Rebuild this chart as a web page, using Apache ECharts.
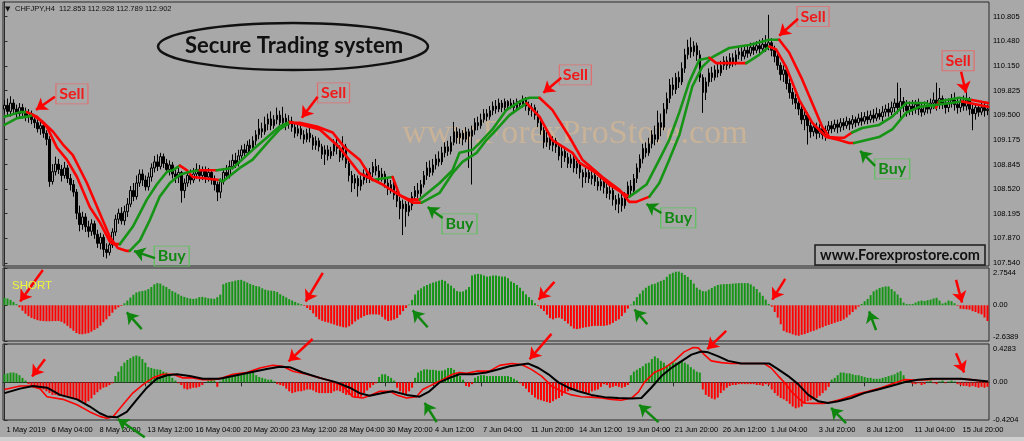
<!DOCTYPE html>
<html><head><meta charset="utf-8">
<script src="https://cdn.jsdelivr.net/npm/echarts@6/dist/echarts.min.js"></script>
<style>html,body{margin:0;padding:0;background:#a8a8a8;}#c{width:1024px;height:441px;}</style>
</head><body><div id="c"></div>
<script>
// ---- price candles [open, close, low, high], CHFJPY H4 ----
const candles = [
[109.58,109.63,109.52,109.70],[109.63,109.55,109.50,109.72],[109.55,109.66,109.48,109.75],[109.66,109.58,109.53,109.71],[109.58,109.52,109.45,109.64],[109.52,109.60,109.47,109.66],[109.60,109.54,109.46,109.65],[109.54,109.48,109.42,109.60],[109.48,109.52,109.40,109.58],[109.52,109.44,109.38,109.56],
[109.44,109.40,109.33,109.50],[109.40,109.32,109.27,109.45],[109.32,109.36,109.24,109.42],[109.36,109.26,109.20,109.40],[109.26,109.18,109.10,109.30],[109.18,108.62,108.55,109.22],[108.62,108.75,108.58,108.85],[108.75,108.85,108.70,108.95],[108.85,108.78,108.72,108.92],[108.78,108.70,108.62,108.84],
[108.70,108.80,108.66,108.88],[108.80,108.66,108.60,108.84],[108.66,108.58,108.50,108.72],[108.58,108.48,108.42,108.64],[108.48,108.20,108.12,108.52],[108.20,108.05,107.96,108.30],[108.05,108.15,107.98,108.22],[108.15,108.02,107.95,108.20],[108.02,107.96,107.88,108.10],[107.96,108.06,107.90,108.12],
[108.06,107.92,107.86,108.10],[107.92,107.80,107.74,107.98],[107.80,107.88,107.72,107.94],[107.88,107.72,107.62,107.92],[107.72,107.68,107.60,107.80],[107.68,107.78,107.64,107.84],[107.78,107.95,107.74,108.00],[107.95,108.12,107.90,108.18],[108.12,108.20,108.06,108.26],[108.20,108.10,108.05,108.28],
[108.10,108.22,108.04,108.30],[108.22,108.32,108.15,108.40],[108.32,108.50,108.28,108.56],[108.50,108.42,108.36,108.60],[108.42,108.60,108.38,108.70],[108.60,108.72,108.55,108.78],[108.72,108.64,108.56,108.78],[108.64,108.55,108.50,108.70],[108.55,108.68,108.50,108.74],[108.68,108.80,108.62,108.86],
[108.80,108.88,108.74,108.96],[108.88,108.82,108.76,108.98],[108.82,108.95,108.78,109.00],[108.95,108.86,108.80,108.99],[108.86,108.78,108.72,108.92],[108.78,108.84,108.70,108.90],[108.84,108.72,108.66,108.88],[108.72,108.68,108.60,108.80],[108.68,108.74,108.60,108.80],[108.74,108.50,108.34,108.76],
[108.50,108.60,108.40,108.66],[108.60,108.70,108.55,108.76],[108.70,108.64,108.58,108.78],[108.64,108.72,108.60,108.80],[108.72,108.78,108.66,108.86],[108.78,108.70,108.62,108.84],[108.70,108.76,108.64,108.82],[108.76,108.68,108.60,108.82],[108.68,108.74,108.62,108.80],[108.74,108.64,108.58,108.78],
[108.64,108.58,108.50,108.70],[108.58,108.48,108.36,108.62],[108.48,108.62,108.40,108.66],[108.62,108.74,108.58,108.80],[108.74,108.70,108.64,108.84],[108.70,108.82,108.66,108.90],[108.82,108.90,108.78,108.98],[108.90,108.86,108.80,109.00],[108.86,108.96,108.82,109.04],[108.96,109.04,108.92,109.10],
[109.04,109.00,108.94,109.12],[109.00,109.10,108.96,109.16],[109.10,109.06,109.00,109.18],[109.06,109.16,109.02,109.22],[109.16,109.24,109.10,109.30],[109.24,109.32,109.18,109.45],[109.32,109.28,109.20,109.40],[109.28,109.38,109.24,109.48],[109.38,109.45,109.30,109.52],[109.45,109.36,109.30,109.55],
[109.36,109.44,109.32,109.50],[109.44,109.50,109.38,109.60],[109.50,109.40,109.34,109.56],[109.40,109.46,109.35,109.61],[109.46,109.38,109.30,109.52],[109.38,109.42,109.32,109.50],[109.42,109.34,109.28,109.48],[109.34,109.26,109.20,109.40],[109.26,109.32,109.22,109.38],[109.32,109.24,109.18,109.36],
[109.24,109.18,109.12,109.30],[109.18,109.26,109.14,109.32],[109.26,109.20,109.14,109.34],[109.20,109.10,109.04,109.24],[109.10,109.16,109.04,109.22],[109.16,109.08,109.02,109.20],[109.08,108.98,108.92,109.12],[108.98,109.04,108.84,109.10],[109.04,108.96,108.90,109.10],[108.96,109.02,108.92,109.08],
[109.02,109.12,108.96,109.18],[109.12,109.06,108.98,109.20],[109.06,108.94,108.88,109.10],[108.94,109.08,108.90,109.22],[109.08,108.86,108.80,109.12],[108.86,108.70,108.62,108.90],[108.70,108.60,108.48,108.76],[108.60,108.66,108.52,108.72],[108.66,108.56,108.42,108.70],[108.56,108.64,108.50,108.70],
[108.64,108.72,108.58,108.78],[108.72,108.66,108.60,108.80],[108.66,108.74,108.60,108.80],[108.74,108.82,108.68,108.88],[108.82,108.76,108.70,108.92],[108.76,108.68,108.62,108.84],[108.68,108.72,108.62,108.80],[108.72,108.60,108.54,108.76],[108.60,108.52,108.44,108.66],[108.52,108.58,108.46,108.64],
[108.58,108.44,108.38,108.62],[108.44,108.36,108.28,108.50],[108.36,108.26,108.12,108.42],[108.26,108.32,107.91,108.38],[108.32,108.22,108.02,108.36],[108.22,108.30,108.16,108.36],[108.30,108.42,108.24,108.48],[108.42,108.50,108.36,108.56],[108.50,108.46,108.40,108.60],[108.46,108.58,108.42,108.64],
[108.58,108.70,108.54,108.76],[108.70,108.80,108.64,108.88],[108.80,108.74,108.68,108.90],[108.74,108.84,108.70,108.92],[108.84,108.92,108.78,108.98],[108.92,108.88,108.82,109.02],[108.88,109.00,108.84,109.08],[109.00,109.08,108.94,109.14],[109.08,109.02,108.96,109.16],[109.02,109.14,108.98,109.22],
[109.14,109.28,109.10,109.41],[109.28,109.20,109.12,109.34],[109.20,109.26,109.12,109.32],[109.26,109.18,109.10,109.30],[109.18,109.28,109.14,109.34],[109.28,109.22,108.80,109.32],[109.22,109.30,108.58,109.36],[109.30,109.40,109.24,109.46],[109.40,109.36,109.30,109.48],[109.36,109.44,109.32,109.52],
[109.44,109.52,109.40,109.58],[109.52,109.48,109.42,109.58],[109.48,109.56,109.44,109.62],[109.56,109.62,109.50,109.68],[109.62,109.58,109.52,109.70],[109.58,109.66,109.54,109.72],[109.66,109.60,109.54,109.70],[109.60,109.68,109.56,109.72],[109.68,109.62,109.56,109.70],[109.62,109.66,109.58,109.72],
[109.66,109.60,109.52,109.70],[109.60,109.68,109.56,109.72],[109.68,109.64,109.58,109.70],[109.64,109.70,109.60,109.76],[109.70,109.62,109.56,109.74],[109.62,109.56,109.50,109.68],[109.56,109.60,109.48,109.66],[109.60,109.50,109.44,109.64],[109.50,109.40,109.34,109.56],[109.40,109.30,109.24,109.46],
[109.30,109.14,109.06,109.34],[109.14,109.20,109.08,109.28],[109.20,109.10,109.04,109.26],[109.10,109.16,109.02,109.22],[109.16,109.08,109.00,109.20],[109.08,108.96,108.90,109.12],[108.96,109.02,108.80,109.08],[109.02,108.94,108.88,109.08],[108.94,108.86,108.80,109.00],[108.86,108.92,108.80,108.98],
[108.92,108.80,108.74,108.96],[108.80,108.86,108.72,108.90],[108.86,108.74,108.66,108.90],[108.74,108.68,108.54,108.78],[108.68,108.74,108.60,108.80],[108.74,108.66,108.60,108.78],[108.66,108.70,108.58,108.76],[108.70,108.62,108.56,108.74],[108.62,108.56,108.50,108.68],[108.56,108.62,108.50,108.68],
[108.62,108.54,108.46,108.66],[108.54,108.46,108.40,108.60],[108.46,108.50,108.38,108.56],[108.50,108.38,108.30,108.54],[108.38,108.32,108.24,108.44],[108.32,108.40,108.20,108.46],[108.40,108.30,108.22,108.46],[108.30,108.42,108.26,108.48],[108.42,108.56,108.38,108.62],[108.56,108.50,108.44,108.64],
[108.50,108.66,108.46,108.72],[108.66,108.80,108.60,108.86],[108.80,108.92,108.74,108.98],[108.92,109.06,108.86,109.12],[109.06,109.00,108.94,109.14],[109.00,109.12,108.96,109.20],[109.12,109.24,109.06,109.30],[109.24,109.18,109.10,109.36],[109.18,109.40,109.14,109.56],[109.40,109.34,109.22,109.52],
[109.34,109.58,109.30,109.66],[109.58,109.72,109.52,109.80],[109.72,109.90,109.66,109.98],[109.90,109.84,109.76,110.00],[109.84,110.00,109.78,110.06],[110.00,109.94,109.86,110.08],[109.94,110.12,109.90,110.20],[110.12,110.30,110.06,110.38],[110.30,110.40,110.24,110.50],[110.40,110.34,110.26,110.53],
[110.34,110.42,110.28,110.48],[110.42,110.30,110.22,110.46],[110.30,110.00,109.94,110.36],[110.00,109.80,109.53,110.04],[109.80,109.94,109.70,110.00],[109.94,110.06,109.88,110.12],[110.06,110.00,109.94,110.14],[110.00,110.10,109.96,110.16],[110.10,110.06,110.00,110.20],[110.06,110.16,110.02,110.22],
[110.16,110.22,110.10,110.28],[110.22,110.16,110.10,110.28],[110.16,110.26,110.12,110.32],[110.26,110.20,110.14,110.32],[110.20,110.30,110.16,110.36],[110.30,110.34,110.24,110.40],[110.34,110.28,110.22,110.40],[110.28,110.36,110.24,110.42],[110.36,110.32,110.26,110.44],[110.32,110.40,110.28,110.46],
[110.40,110.36,110.30,110.46],[110.36,110.42,110.32,110.48],[110.42,110.38,110.32,110.50],[110.38,110.44,110.34,110.52],[110.44,110.40,110.34,110.56],[110.40,110.46,110.36,110.83],[110.46,110.36,110.28,110.52],[110.36,110.28,110.20,110.42],[110.28,110.16,110.10,110.34],[110.16,110.04,109.96,110.20],
[110.04,110.10,109.94,110.16],[110.10,109.92,109.84,110.14],[109.92,109.80,109.72,109.98],[109.80,109.72,109.64,109.86],[109.72,109.66,109.58,109.78],[109.66,109.58,109.50,109.72],[109.58,109.44,109.38,109.62],[109.44,109.50,109.30,109.56],[109.50,109.36,109.11,109.54],[109.36,109.28,109.20,109.42],
[109.28,109.34,109.22,109.40],[109.34,109.26,109.18,109.40],[109.26,109.32,109.20,109.38],[109.32,109.24,109.18,109.36],[109.24,109.30,109.16,109.36],[109.30,109.36,109.24,109.42],[109.36,109.32,109.26,109.42],[109.32,109.38,109.28,109.44],[109.38,109.34,109.26,109.44],[109.34,109.40,109.28,109.46],
[109.40,109.36,109.30,109.46],[109.36,109.42,109.32,109.48],[109.42,109.38,109.30,109.46],[109.38,109.44,109.32,109.50],[109.44,109.40,109.34,109.48],[109.40,109.46,109.36,109.52],[109.46,109.42,109.36,109.54],[109.42,109.48,109.38,109.54],[109.48,109.44,109.38,109.56],[109.44,109.50,109.40,109.56],
[109.50,109.46,109.40,109.58],[109.46,109.52,109.42,109.60],[109.52,109.48,109.44,109.58],[109.48,109.54,109.42,109.62],[109.54,109.58,109.48,109.64],[109.58,109.54,109.48,109.66],[109.54,109.60,109.50,109.68],[109.60,109.66,109.54,109.72],[109.66,109.60,109.52,109.93],[109.60,109.68,109.46,109.86],
[109.68,109.62,109.54,109.74],[109.62,109.56,109.48,109.70],[109.56,109.62,109.50,109.68],[109.62,109.58,109.50,109.70],[109.58,109.64,109.52,109.70],[109.64,109.58,109.50,109.72],[109.58,109.54,109.48,109.66],[109.54,109.62,109.50,109.68],[109.62,109.58,109.52,109.70],[109.58,109.66,109.52,109.72],
[109.66,109.70,109.58,109.80],[109.70,109.64,109.56,109.93],[109.64,109.72,109.58,109.86],[109.72,109.66,109.58,109.76],[109.66,109.60,109.52,109.72],[109.60,109.66,109.54,109.72],[109.66,109.70,109.60,109.78],[109.70,109.64,109.56,109.80],[109.64,109.60,109.52,109.72],[109.60,109.68,109.54,109.74],
[109.68,109.62,109.56,109.76],[109.62,109.70,109.56,109.84],[109.70,109.58,109.50,109.74],[109.58,109.52,109.30,109.64],[109.52,109.60,109.44,109.66],[109.60,109.54,109.48,109.64],[109.54,109.60,109.50,109.66],[109.60,109.56,109.48,109.66],[109.56,109.58,109.50,109.64]
];

// ---- trend lines on the price panel: [bar, price]; colour per point: g = green, r = red (segment that starts there) ----
const maP = [[0,109.48],[5.2,109.54],[7.5,109.54],[10.8,109.48],[14.2,109.34],[17.5,109.07],[20.8,108.91],[24.2,108.68],[28.5,108.28],[31.8,108.08],[35.2,107.82],[36.5,107.79],
[38.5,107.79],[42.8,108.02],[47.5,108.38],[50.8,108.58],[54.2,108.75],[56.2,108.77],[58.5,108.83],[60.8,108.77],[62.8,108.68],[65.2,108.67],[69.5,108.65],
[71.8,108.64],[72.8,108.62],[78.5,108.80],[82.8,108.91],[88.5,109.17],[91.8,109.31],[95.2,109.40],[98.5,109.40],[104.2,109.35],[109.5,109.27],[113.5,109.07],[118.5,108.91],
[122.8,108.64],[129.5,108.68],[131.8,108.44],[135.2,108.38],[138.5,108.38],[145.2,108.60],[149.5,108.77],[151.8,109.00],[156.2,109.04],[158.5,109.13],[162.8,109.31],[167.5,109.57],[172.8,109.70],
[175.2,109.73],[178.5,109.73],[182.8,109.57],[188.5,109.21],[192.8,108.91],[199.5,108.68],[205.2,108.51],[208.5,108.35],
[210.8,108.35],[215.2,108.42],[218.5,108.60],[221.8,108.91],[225.2,109.24],[229.5,109.88],[232.8,110.14],[236.2,110.27],[241.8,110.39],[248.5,110.43],[255.2,110.50],
[255.8,110.51],[258.5,110.50],[261.8,110.33],[266.2,109.97],[269.5,109.66],[272.8,109.35],[275.2,109.21],[278.5,109.20],
[280.2,109.20],[282.8,109.27],[286.2,109.33],[291.8,109.37],[296.2,109.48],[300.8,109.66],[307.5,109.66],[310.8,109.60],[311.8,109.68],[318.5,109.73],[322.8,109.70],[328.2,109.66]];
const maPColor = 'ggrrrrrrrrrr'+'ggggggrrrrr'+'ggggggrrrrrr'+'grrrgggggggggg'+'rrrrrrrr'+'ggggggggggg'+'rrrrrrrr'+'ggggggrggrrr';

const maQ = [[0,109.37],[4.2,109.46],[7.5,109.48],[9.5,109.50],[12.8,109.41],[16.2,109.28],[19.5,109.11],[22.8,108.97],[27.5,108.60],[31.8,108.20],[35.2,107.88],[37.8,107.74],[40.8,107.70],
[41.8,107.70],[45.2,107.84],[48.5,108.11],[51.8,108.42],[55.2,108.60],[58.5,108.71],[61.8,108.75],[65.2,108.77],
[70.8,108.77],[76.2,108.80],[82.8,109.04],[87.5,109.20],[91.8,109.35],[95.2,109.41],[98.5,109.38],[105.2,109.31],[111.8,109.07],[118.5,108.73],[126.2,108.58],[131.8,108.44],[136.2,108.34],
[139.2,108.34],[145.2,108.47],[149.5,108.73],[152.8,108.88],[157.5,109.00],[160.8,109.17],[164.2,109.31],[168.5,109.50],
[174.2,109.66],[178.5,109.48],[182.8,109.17],[189.5,109.00],[191.8,108.87],[197.5,108.73],[201.8,108.58],[206.2,108.47],
[208.5,108.42],[211.8,108.51],[214.2,108.58],[218.5,108.91],[221.8,109.17],[225.2,109.54],[228.5,109.94],[231.8,110.23],
[235.2,110.26],[237.5,110.19],[247.5,110.19],[251.8,110.30],[255.2,110.41],[257.5,110.37],[260.8,110.14],[265.2,109.70],[269.5,109.40],[274.2,109.21],[278.5,109.17],[281.8,109.13],
[283.5,109.13],[291.8,109.21],[296.2,109.31],[300.8,109.53],[305.2,109.61],[311.8,109.64],[319.5,109.68],[328.2,109.61]];
const maQColor = 'gggrrrrrrrrrr'+'gggggggr'+'gggggrrrrrrrr'+'gggggggg'+'rrrrrrrr'+'gggggggg'+'rrggrrrrrrrr'+'ggggggrr';

// ---- oscillator panel (histogram) ----
const osc = [
0.55,0.50,0.40,0.25,0.08,-0.15,-0.40,-0.62,-0.80,-0.93,
-1.02,-1.10,-1.15,-1.17,-1.18,-1.18,-1.17,-1.16,-1.16,-1.22,
-1.35,-1.52,-1.70,-1.88,-2.05,-2.13,-2.14,-2.10,-2.06,-1.95,
-1.82,-1.70,-1.50,-1.25,-1.04,-0.80,-0.55,-0.30,-0.15,-0.05,
0.15,0.35,0.57,0.78,0.95,1.02,1.06,1.10,1.20,1.35,
1.55,1.64,1.60,1.45,1.35,1.20,1.05,0.95,0.82,0.70,
0.62,0.55,0.50,0.47,0.50,0.60,0.62,0.58,0.52,0.50,
0.48,0.60,0.79,1.55,1.66,1.72,1.76,1.82,1.86,1.88,
1.78,1.68,1.58,1.50,1.42,1.38,1.25,1.15,1.10,1.08,
1.05,0.98,0.82,0.70,0.58,0.45,0.35,0.25,0.15,0.08,
-0.05,-0.20,-0.35,-0.60,-0.85,-1.04,-1.15,-1.22,-1.28,-1.35,
-1.42,-1.50,-1.56,-1.62,-1.64,-1.55,-1.40,-1.20,-1.05,-0.92,
-0.80,-0.72,-0.68,-0.67,-0.67,-0.70,-0.85,-1.05,-1.16,-1.12,
-1.05,-0.95,-0.70,-0.43,-0.20,0.05,0.40,0.80,1.10,1.25,
1.40,1.50,1.60,1.68,1.75,1.82,1.88,1.80,1.60,1.45,
1.25,1.05,1.00,1.02,1.15,1.35,2.20,2.28,2.32,2.28,
2.20,2.12,2.15,2.20,2.20,2.15,2.12,2.12,2.00,1.76,
1.65,1.50,1.30,1.05,0.80,0.60,0.40,0.15,-0.05,-0.25,
-0.43,-0.70,-0.95,-1.04,-0.95,-0.91,-1.00,-1.16,-1.35,-1.55,
-1.72,-1.76,-1.72,-1.66,-1.62,-1.58,-1.54,-1.52,-1.52,-1.52,
-1.52,-1.48,-1.42,-1.30,-1.15,-1.04,-0.80,-0.55,-0.25,0.05,
0.30,0.60,0.85,1.10,1.30,1.44,1.55,1.59,1.70,1.80,
1.88,2.10,2.30,2.40,2.48,2.49,2.40,2.24,2.10,1.88,
1.60,1.30,1.15,1.05,1.03,1.15,1.28,1.40,1.50,1.54,
1.56,1.57,1.58,1.60,1.62,1.64,1.64,1.64,1.64,1.55,
1.39,1.20,0.95,0.70,0.42,0.10,-0.10,-0.50,-0.91,-1.40,
-1.89,-2.00,-2.06,-2.15,-2.22,-2.25,-2.18,-2.13,-2.05,-1.95,
-1.89,-1.80,-1.70,-1.62,-1.52,-1.45,-1.38,-1.30,-1.22,-1.16,
-1.05,-0.90,-0.70,-0.50,-0.30,-0.10,0.10,0.30,0.47,0.75,
1.03,1.15,1.28,1.34,1.39,1.39,1.20,1.03,0.80,0.55,
0.20,0.10,0.08,0.10,0.20,0.30,0.35,0.32,0.38,0.42,
0.50,0.55,0.35,0.13,0.20,0.35,0.30,0.15,-0.05,-0.25,
-0.28,-0.30,-0.32,-0.43,-0.50,-0.60,-0.67,-0.90,-1.16];

// ---- MACD-style panel: histogram + two lines ----
const hist = [
0.09,0.10,0.11,0.11,0.10,0.08,0.05,0.02,-0.02,-0.04,
-0.05,-0.06,-0.07,-0.08,-0.10,-0.12,-0.14,-0.14,-0.15,-0.15,
-0.16,-0.16,-0.17,-0.18,-0.19,-0.20,-0.21,-0.23,-0.21,-0.18,
-0.14,-0.11,-0.08,-0.06,-0.05,-0.03,-0.01,0.07,0.12,0.18,
0.22,0.25,0.27,0.29,0.30,0.29,0.26,0.22,0.17,0.16,
0.15,0.145,0.14,0.12,0.11,0.08,0.05,0.02,-0.01,-0.03,
-0.07,-0.08,-0.07,-0.06,-0.06,-0.05,-0.03,0.00,0.02,0.03,
0.02,-0.05,0.01,0.04,0.06,0.07,0.07,0.08,0.09,0.09,
0.10,0.10,0.11,0.11,0.08,0.06,0.05,0.04,0.03,0.03,
0.01,-0.02,-0.03,-0.04,-0.07,-0.10,-0.12,-0.11,-0.10,-0.10,
-0.09,-0.08,-0.08,-0.09,-0.11,-0.12,-0.12,-0.12,-0.12,-0.12,
-0.10,-0.09,-0.10,-0.12,-0.14,-0.14,-0.16,-0.175,-0.17,-0.16,
-0.12,-0.09,-0.06,-0.03,-0.01,0.06,0.09,0.09,0.07,0.05,
0.02,-0.06,-0.10,-0.12,-0.14,-0.10,-0.06,0.05,0.11,0.13,
0.145,0.145,0.14,0.14,0.135,0.13,0.13,0.14,0.16,0.16,
0.14,0.10,0.07,0.03,-0.04,-0.05,-0.02,0.05,0.07,0.08,
0.08,0.07,0.07,0.07,0.07,0.07,0.07,0.07,0.07,0.06,
0.04,0.02,-0.01,-0.04,-0.07,-0.11,-0.14,-0.17,-0.19,-0.20,
-0.21,-0.22,-0.23,-0.21,-0.19,-0.175,-0.15,-0.12,-0.10,-0.09,
-0.08,-0.08,-0.09,-0.11,-0.12,-0.12,-0.10,-0.09,-0.08,-0.05,
-0.02,-0.03,-0.06,-0.05,-0.04,-0.05,-0.06,-0.05,-0.03,0.08,
0.12,0.14,0.16,0.18,0.21,0.22,0.26,0.29,0.27,0.24,
0.22,0.19,0.20,0.22,0.22,0.23,0.24,0.22,0.20,0.17,
0.145,0.12,0.11,-0.08,-0.14,-0.16,-0.18,-0.19,-0.17,-0.12,
-0.09,-0.06,-0.04,-0.03,-0.03,-0.02,-0.02,-0.02,-0.02,-0.02,
-0.02,-0.03,-0.03,-0.04,-0.02,-0.03,-0.08,-0.12,-0.15,-0.175,
-0.19,-0.21,-0.24,-0.27,-0.29,-0.28,-0.27,-0.24,-0.21,-0.20,
-0.19,-0.175,-0.15,-0.12,-0.09,-0.05,0.03,0.05,0.08,0.11,
0.11,0.10,0.10,0.09,0.08,0.08,0.07,0.06,0.05,0.05,
0.04,0.04,0.04,0.05,0.06,0.07,0.08,0.09,0.11,0.125,
0.08,0.03,0.01,-0.02,-0.02,-0.01,-0.03,-0.02,0.01,0.02,
-0.01,-0.02,0.01,0.02,-0.01,0.01,0.02,0.01,-0.02,-0.03,
-0.04,-0.04,-0.05,-0.04,-0.05,-0.06,-0.05,-0.06,-0.05];

const sigRed = [[0,-0.08],[5.2,-0.04],[8.5,-0.04],[11.8,-0.07],[14.2,-0.16],[19.5,-0.19],[24.2,-0.25],[28.5,-0.33],[31.8,-0.38],[34.2,-0.40],[36.2,-0.385],[39.5,-0.25],[42.8,-0.12],[46.2,-0.025],[49.5,0.05],[52.8,0.09],[56.2,0.09],[59.5,0.05],[62.8,0.05],[66.2,0.03],[69.5,0.03],[72.8,0.05],[76.2,0.09],[80.8,0.11],[85.2,0.16],[89.5,0.19],[92.8,0.18],[96.2,0.125],[100.8,0.09],[105.2,0.05],[109.5,0.01],[112.8,-0.04],[116.2,-0.16],[119.5,-0.175],[121.8,-0.15],[125.2,-0.10],[128.5,-0.10],[130.8,-0.14],[134.2,-0.175],[137.5,-0.16],[139.5,-0.08],[142.8,-0.025],[146.2,0.03],[149.5,0.09],[151.8,0.11],[154.2,0.10],[157.5,0.125],[161.8,0.125],[165.2,0.19],[169.2,0.21],[172.5,0.20],[175.8,0.145],[179.2,0.07],[182.5,-0.04],[185.8,-0.10],[189.2,-0.14],[192.5,-0.16],[195.8,-0.165],[199.2,-0.175],[202.5,-0.19],[205.8,-0.20],[209.2,-0.175],[211.5,-0.11],[213.5,0.0],[216.8,0.11],[220.2,0.16],[223.5,0.24],[226.8,0.34],[229.8,0.39],[231.5,0.385],[233.5,0.31],[235.8,0.24],[239.2,0.22],[242.5,0.21],[246.8,0.21],[253.5,0.21],[255.8,0.16],[258.2,0.07],[260.2,0.0],[262.5,-0.10],[264.8,-0.175],[266.8,-0.23],[269.2,-0.235],[273.5,-0.235],[275.8,-0.22],[279.2,-0.19],[283.5,-0.14],[288.2,-0.10],[292.5,-0.06],[296.8,-0.01],[300.2,0.03],[303.5,0.025],[308.2,0.03],[312.5,0.04],[318.2,0.04],[322.5,0.03],[326.8,0.01],[328.2,0.01]];
const sigBlack = [[0,-0.12],[5.2,-0.07],[9.5,-0.04],[14.2,-0.06],[18.5,-0.14],[24.2,-0.19],[28.5,-0.27],[31.8,-0.345],[34.2,-0.38],[37.5,-0.39],[40.8,-0.33],[44.2,-0.19],[47.5,-0.06],[50.8,0.04],[54.2,0.08],[57.5,0.09],[61.8,0.07],[66.2,0.04],[71.8,0.04],[76.2,0.07],[81.8,0.11],[87.5,0.15],[91.8,0.175],[95.2,0.17],[99.5,0.11],[105.2,0.05],[110.8,0.0],[115.2,-0.06],[118.5,-0.12],[121.8,-0.15],[126.2,-0.12],[129.5,-0.10],[134.2,-0.14],[138.5,-0.16],[141.8,-0.10],[145.2,0.0],[148.5,0.05],[151.8,0.09],[156.2,0.09],[160.8,0.11],[165.2,0.15],[168.5,0.18],[174.8,0.21],[178.2,0.16],[181.5,0.09],[184.8,0.0],[188.2,-0.06],[191.5,-0.10],[195.8,-0.14],[200.2,-0.165],[204.8,-0.175],[209.2,-0.18],[212.5,-0.175],[215.8,-0.06],[219.2,0.07],[222.5,0.16],[225.8,0.235],[229.2,0.31],[232.5,0.345],[234.8,0.335],[238.2,0.29],[241.5,0.24],[245.8,0.21],[251.5,0.21],[255.2,0.21],[258.2,0.145],[261.5,0.07],[264.8,-0.02],[268.2,-0.14],[271.5,-0.21],[274.8,-0.23],[278.2,-0.21],[282.5,-0.175],[286.8,-0.12],[291.5,-0.08],[295.8,-0.04],[300.2,0.0],[304.8,0.03],[309.2,0.04],[313.5,0.04],[319.2,0.04],[322.5,0.03],[326.8,0.015],[328.2,0.01]];

// ---- axes ticks ----
const yTicksMain = [107.540,107.870,108.195,108.520,108.845,109.175,109.500,109.825,110.150,110.480,110.805];
const yTicksOsc = [-2.6389, 0, 2.7544];
const yLabelsOsc = ['-2.6389','0.00','2.7544'];
const yTicksMacd = [-0.4204, 0, 0.4283];
const yLabelsMacd = ['-0.4204','0.00','0.4283'];
const xTickBars = [0,15,31,47,63,79,95,111,127,143,159,175,191,207,223,239,255,271,287,303,319];
const xTickLabels = ['1 May 2019','6 May 04:00','8 May 20:00','13 May 12:00','16 May 04:00','20 May 20:00','23 May 12:00','28 May 04:00','30 May 20:00','4 Jun 12:00','7 Jun 04:00','11 Jun 20:00','14 Jun 12:00','19 Jun 04:00','21 Jun 20:00','26 Jun 12:00','1 Jul 04:00','3 Jul 20:00','8 Jul 12:00','11 Jul 04:00','15 Jul 20:00'];

// ---- annotations (data coordinates: bar, value) ----
const sellArrows = [[16.8,109.743,10.5,109.570],[104.5,109.743,99.2,109.464],[185.8,109.995,179.8,109.796],[264.8,110.778,258.5,110.553],[319.2,110.075,320.8,109.796]];
const buyArrows = [[50.2,107.605,43.2,107.698],[146.2,108.137,141.2,108.283],[219.2,108.203,214.2,108.322],[290.5,108.827,285.5,109.026]];
const sellBoxes = [[22.5,109.783],[109.8,109.796],[190.5,110.035],[269.8,110.805],[318.2,110.221]];
const buyBoxes = [[55.8,107.632],[151.8,108.057],[224.8,108.137],[296.2,108.787]];
const oscRedArrows = [[12.8,2.61,5.2,0.28],[106.2,2.39,100.5,0.28],[183.5,1.73,178.2,0.42],[260.5,1.95,256.2,0.42],[317.5,1.88,319.5,0.20]];
const oscGreenArrows = [[45.8,-1.76,40.8,-0.52],[141.2,-1.62,136.2,-0.38],[214.5,-1.40,210.2,-0.31],[290.8,-1.84,288.5,-0.45]];
const macdRedArrows = [[13.5,0.258,9.2,0.066],[102.8,0.484,94.8,0.235],[182.5,0.541,175.2,0.258],[240.8,0.575,234.5,0.371],[317.5,0.326,320.2,0.111]];
const macdGreenArrows = [[46.8,-0.613,37.8,-0.41],[144.2,-0.444,140.2,-0.229],[218.2,-0.444,211.8,-0.251],[280.8,-0.455,275.8,-0.285]];

// ---- build chart ----
const BG = '#a8a8a8', GREEN = '#159415', RED = '#ff0000', AGREEN = '#0f870f', AX = '#2a2a2a';
const N = candles.length;
const cats = candles.map((_, i) => String(i));
const tickSet = new Set(xTickBars);
const tickMap = {}; xTickBars.forEach((b, i) => tickMap[b] = xTickLabels[i]);

function segments(pts, cols) {
  const out = []; let s = 0;
  for (let i = 1; i < pts.length; i++) {
    if (cols[i] !== cols[s] || i === pts.length - 1) { out.push({ c: cols[s], data: pts.slice(s, i + 1) }); s = i; }
  }
  return out;
}
const lblFont = { fontFamily: 'Liberation Sans', fontSize: 7.5, color: '#000' };
function yAxisDef(grid, min, max, ticks, fmt, bottomPad) {
  return {
    type: 'value', gridIndex: grid, position: 'right', min, max, scale: true,
    splitLine: { show: false },
    axisLine: { show: true, lineStyle: { color: AX, width: 1 } },
    axisTick: { show: true, length: 3, lineStyle: { color: AX }, customValues: ticks },
    axisLabel: Object.assign({ show: true, margin: 4, customValues: ticks, formatter: fmt,
      rich: { t: Object.assign({ padding: [9, 0, 0, 0] }, lblFont), b: Object.assign({ padding: [0, 0, bottomPad || 8, 0] }, lblFont) } }, lblFont)
  };
}
function edgeFmt(ticks, labels) {
  return v => {
    const i = ticks.findIndex(t => Math.abs(t - v) < 1e-6);
    const s = i >= 0 ? labels[i] : String(v);
    if (i === ticks.length - 1) return '{t|' + s + '}';
    if (i === 0) return '{b|' + s + '}';
    return s;
  };
}
function catAxis(grid, showLabels) {
  return {
    type: 'category', gridIndex: grid, data: cats, boundaryGap: true,
    axisLine: { show: showLabels, lineStyle: { color: AX } },
    axisTick: { show: showLabels, interval: (i) => tickSet.has(i), alignWithLabel: true, length: 4, lineStyle: { color: AX } },
    axisLabel: Object.assign({ show: showLabels, interval: (i) => tickSet.has(i), formatter: (v, i) => tickMap[i] || '', align: 'left', margin: 6, padding: [0, 0, 0, 2] }, lblFont),
    splitLine: { show: false }
  };
}
function valX(grid) { return { type: 'value', gridIndex: grid, min: -0.5, max: N - 0.5, show: false }; }

function arrowSeries(xi, yi, arr, color) {
  return { type: 'lines', coordinateSystem: 'cartesian2d', xAxisIndex: xi, yAxisIndex: yi, silent: true, clip: false, z: 6,
    symbol: ['none', 'arrow'], symbolSize: 11, animation: false,
    lineStyle: { color, width: 2.5, type: 'solid', opacity: 1, curveness: 0 },
    data: arr.map(a => ({ coords: [[a[0], a[1]], [a[2], a[3]]] })) };
}
function boxSeries(arr, text, color, border, w) {
  return { type: 'line', xAxisIndex: 1, yAxisIndex: 0, data: [], silent: true, clip: false, z: 7,
    markPoint: { silent: true, animation: false, symbol: 'rect', symbolSize: [w, 20],
      itemStyle: { color: 'rgba(0,0,0,0)', borderColor: border, borderWidth: 1 },
      label: { show: true, position: 'inside', formatter: text, color, fontSize: 16, fontWeight: 'bold', fontFamily: 'Lato' },
      emphasis: { disabled: true },
      data: arr.map(c => ({ coord: c })) } };
}

const series = [];
series.push({ type: 'candlestick', xAxisIndex: 0, yAxisIndex: 0, data: candles, barWidth: 2, silent: true, z: 2,
  itemStyle: { color: BG, color0: '#000', borderColor: '#000', borderColor0: '#000', borderWidth: 1 } });
[...segments(maP, maPColor), ...segments(maQ, maQColor)].forEach(s => series.push({
  type: 'line', xAxisIndex: 1, yAxisIndex: 0, data: s.data, showSymbol: false, symbol: 'none', silent: true, z: 3,
  lineStyle: { color: s.c === 'g' ? GREEN : RED, width: 2.6, cap: 'round', join: 'round' } }));
series.push(arrowSeries(1, 0, sellArrows, RED));
series.push(arrowSeries(1, 0, buyArrows, AGREEN));
series.push(boxSeries(sellBoxes, 'Sell', '#f01a1a', '#e07070', 32));
series.push(boxSeries(buyBoxes, 'Buy', '#118811', '#60c060', 35));

series.push({ type: 'bar', xAxisIndex: 2, yAxisIndex: 1, data: osc.map(v => v >= 0 ? v : '-'), barWidth: 2, barGap: '-100%', silent: true, itemStyle: { color: GREEN } });
series.push({ type: 'bar', xAxisIndex: 2, yAxisIndex: 1, data: osc.map(v => v < 0 ? v : '-'), barWidth: 2, barGap: '-100%', silent: true, itemStyle: { color: RED } });
series.push(arrowSeries(3, 1, oscRedArrows, RED));
series.push(arrowSeries(3, 1, oscGreenArrows, AGREEN));

series.push({ type: 'bar', xAxisIndex: 4, yAxisIndex: 2, data: hist.map(v => v >= 0 ? v : '-'), barWidth: 2, barGap: '-100%', silent: true, itemStyle: { color: GREEN } });
series.push({ type: 'bar', xAxisIndex: 4, yAxisIndex: 2, data: hist.map(v => v < 0 ? v : '-'), barWidth: 2, barGap: '-100%', silent: true, itemStyle: { color: RED } });
series.push({ type: 'line', xAxisIndex: 5, yAxisIndex: 2, data: sigRed, showSymbol: false, symbol: 'none', silent: true, z: 4, lineStyle: { color: RED, width: 1.6 } });
series.push({ type: 'line', xAxisIndex: 5, yAxisIndex: 2, data: sigBlack, showSymbol: false, symbol: 'none', silent: true, z: 4, lineStyle: { color: '#000', width: 2 } });
series.push(arrowSeries(5, 2, macdRedArrows, RED));
series.push(arrowSeries(5, 2, macdGreenArrows, AGREEN));

const gridBase = { left: 3, width: 986, show: true, borderColor: AX, borderWidth: 1, backgroundColor: 'transparent' };
const option = {
  animation: false,
  backgroundColor: BG,
  grid: [
    Object.assign({ top: 2, height: 264 }, gridBase),
    Object.assign({ top: 268, height: 73 }, gridBase),
    Object.assign({ top: 344, height: 76 }, gridBase)
  ],
  xAxis: [catAxis(0, false), valX(0), catAxis(1, false), valX(1), catAxis(2, true), valX(2)],
  yAxis: [
    yAxisDef(0, 107.50, 111.00, yTicksMain, v => v.toFixed(3)),
    yAxisDef(1, -2.6389, 2.7544, yTicksOsc, edgeFmt(yTicksOsc, yLabelsOsc), 8),
    yAxisDef(2, -0.4204, 0.4283, yTicksMacd, edgeFmt(yTicksMacd, yLabelsMacd), 1)
  ],
  graphic: [
    { type: 'text', z: 1, x: 575, y: 134, silent: true, style: { text: 'www.ForexProStore.com', font: '34px "Liberation Serif"', fill: '#c8b298', align: 'center', verticalAlign: 'middle' } },
    { type: 'text', z: 20, x: 5, y: 9, silent: true, style: { text: '▼', font: '7px "DejaVu Sans"', fill: '#111', align: 'left', verticalAlign: 'middle' } },
    { type: 'text', z: 20, x: 15, y: 9, silent: true, style: { text: 'CHFJPY,H4  112.853 112.928 112.789 112.902', font: '7.5px "Liberation Sans"', fill: '#111', align: 'left', verticalAlign: 'middle' } },
    { type: 'ellipse', z: 20, silent: true, shape: { cx: 293, cy: 46.5, rx: 135, ry: 23.5 }, style: { fill: 'none', stroke: '#111', lineWidth: 2.5 } },
    { type: 'text', z: 21, x: 294, y: 46, silent: true, style: { text: 'Secure Trading system', font: 'bold 22px Lato', fill: '#111', align: 'center', verticalAlign: 'middle' } },
    { type: 'rect', z: 20, silent: true, shape: { x: 815, y: 245, width: 170, height: 20 }, style: { fill: 'none', stroke: '#1a1a1a', lineWidth: 1.5 } },
    { type: 'text', z: 21, x: 900, y: 255.5, silent: true, style: { text: 'www.Forexprostore.com', font: 'bold 14.5px Lato', fill: '#111', align: 'center', verticalAlign: 'middle' } },
    { type: 'text', z: 20, x: 12, y: 286, silent: true, style: { text: 'SHORT', font: '11.5px "Liberation Sans"', fill: '#f2f23a', align: 'left', verticalAlign: 'middle' } },
    { type: 'rect', z: 0, silent: true, shape: { x: 0, y: 437, width: 1024, height: 4 }, style: { fill: '#cfcfcf' } }
  ],
  series
};
const chart = echarts.init(document.getElementById('c'), null, { renderer: 'canvas', width: 1024, height: 441 });
chart.setOption(option);
</script></body></html>
